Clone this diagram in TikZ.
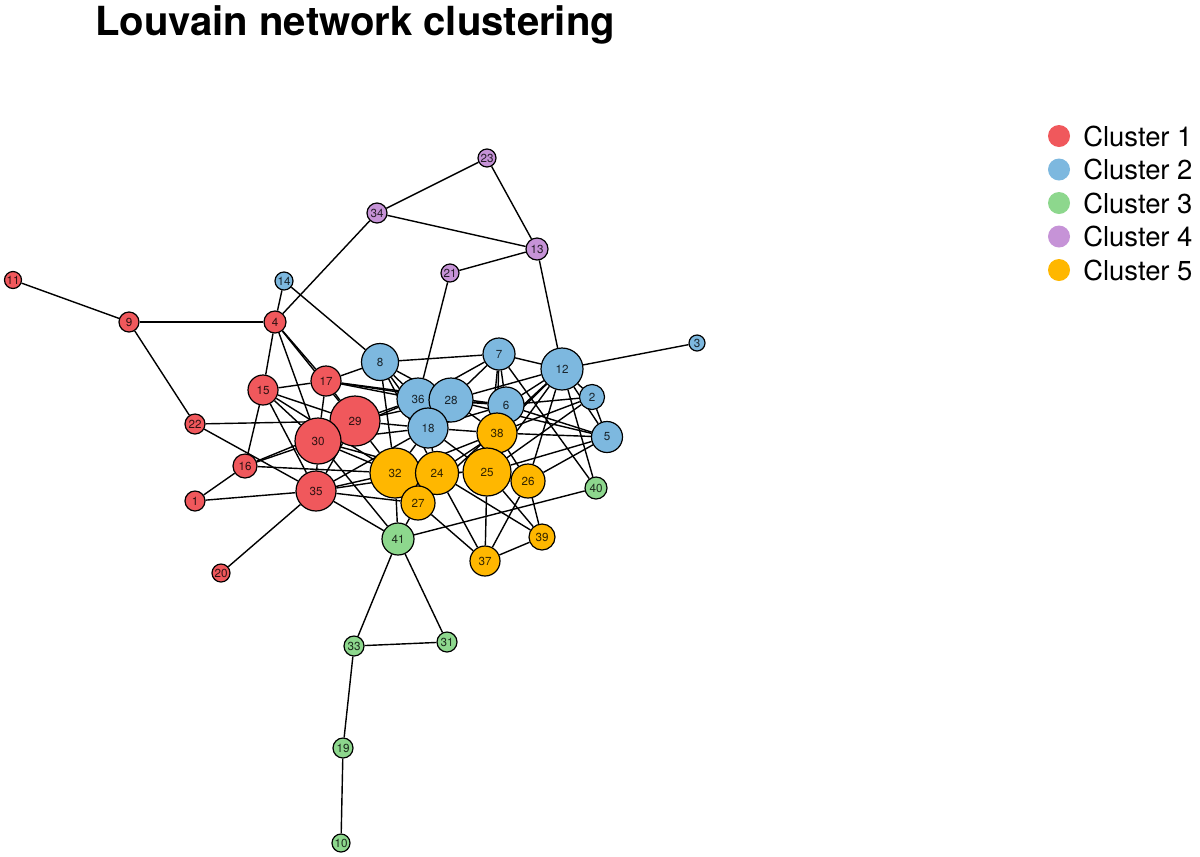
\documentclass[tikz,border=0pt]{standalone}
\usepackage{fontspec}
\setmainfont{TeX Gyre Heros}
\usetikzlibrary{backgrounds}

\definecolor{clred}{HTML}{F0585C}
\definecolor{clblue}{HTML}{7DB8DF}
\definecolor{clgreen}{HTML}{8DD78D}
\definecolor{clpurple}{HTML}{C693D7}
\definecolor{clorange}{HTML}{FFB700}

\begin{document}
\begin{tikzpicture}[x=0.025cm,y=-0.025cm,
vertex/.style={
circle,
draw,
line width=0.85pt,
inner sep=0pt,
text opacity=0.8,
font=\fontsize{8.3}{9}\selectfont
},
sz/.style={minimum size=#1*0.25mm},
c1/.style={vertex,fill=clred},
c2/.style={vertex,fill=clblue},
c3/.style={vertex,fill=clgreen},
c4/.style={vertex,fill=clpurple},
c5/.style={vertex,fill=clorange},
link/.style={line width=1pt},
key/.style={circle,inner sep=0pt,minimum size=22*0.25mm},
keytext/.style={anchor=west,inner sep=0pt,font=\fontsize{19.5}{20}\selectfont}
]
\useasboundingbox (0,0) rectangle (1200,856);
\node (title) [anchor=west,inner sep=0pt,font=\fontsize{28.5}{30}\bfseries] at (95,25) {Louvain network clustering};

% cluster 1
\node (n11) [c1,sz=17] at (13,280) {11};
\node (n9) [c1,sz=20] at (129,322) {9};
\node (n4) [c1,sz=22] at (275,322) {4};
\node (n17) [c1,sz=30] at (326,381) {17};
\node (n15) [c1,sz=30] at (263,390) {15};
\node (n29) [c1,sz=50] at (355,421) {29};
\node (n30) [c1,sz=46] at (318,441) {30};
\node (n22) [c1,sz=20] at (195,424) {22};
\node (n16) [c1,sz=24] at (245,466) {16};
\node (n35) [c1,sz=40] at (316,491) {35};
\node (n1) [c1,sz=20] at (195,501) {1};
\node (n20) [c1,sz=18] at (221,573) {20};
% cluster 2
\node (n14) [c2,sz=18] at (284,281) {14};
\node (n3) [c2,sz=16] at (697,343) {3};
\node (n12) [c2,sz=42] at (562,369) {12};
\node (n7) [c2,sz=32] at (499,354) {7};
\node (n2) [c2,sz=25] at (592,397) {2};
\node (n5) [c2,sz=31] at (607,437) {5};
\node (n8) [c2,sz=37] at (380,362) {8};
\node (n36) [c2,sz=42] at (418,399) {36};
\node (n28) [c2,sz=44] at (451,400) {28};
\node (n6) [c2,sz=36] at (506,405) {6};
\node (n18) [c2,sz=40] at (428,428) {18};
% cluster 3
\node (n40) [c3,sz=22] at (596,488) {40};
\node (n41) [c3,sz=32] at (398,539) {41};
\node (n33) [c3,sz=20] at (354,646) {33};
\node (n31) [c3,sz=20] at (447,642) {31};
\node (n19) [c3,sz=20] at (343,748) {19};
\node (n10) [c3,sz=18] at (341,843) {10};
% cluster 4
\node (n34) [c4,sz=20] at (377,213) {34};
\node (n23) [c4,sz=18] at (487,158) {23};
\node (n13) [c4,sz=22] at (537,249) {13};
\node (n21) [c4,sz=18] at (450,273) {21};
% cluster 5
\node (n38) [c5,sz=40] at (497,433) {38};
\node (n32) [c5,sz=50] at (395,473) {32};
\node (n24) [c5,sz=43] at (437,473) {24};
\node (n25) [c5,sz=48] at (487,472) {25};
\node (n26) [c5,sz=34] at (528,481) {26};
\node (n27) [c5,sz=34] at (418,503) {27};
\node (n39) [c5,sz=26] at (542,537) {39};
\node (n37) [c5,sz=30] at (485,561) {37};

% edges
\begin{pgfonlayer}{background}
\foreach \a/\b in {11/9,9/4,9/22,4/14,4/34,34/23,34/13,23/13,13/21,13/12,21/36,14/8,
4/15,4/17,4/30,4/29,12/3,22/29,22/35,16/15,16/30,16/29,16/32,1/16,1/35,20/35,35/41,
41/33,41/31,33/31,33/19,19/10,41/40,12/40,7/40,5/26,5/25,
15/17,15/30,15/29,15/35,15/32,17/30,17/29,17/8,17/36,17/28,17/6,29/30,30/35,29/35,
30/32,29/32,29/18,29/36,29/28,35/32,35/24,35/18,30/18,30/36,30/24,35/27,30/41,
8/36,8/28,8/18,8/7,8/32,8/24,36/28,36/18,36/7,28/18,28/7,28/6,28/12,7/6,7/12,7/38,
7/25,6/12,6/2,6/5,6/38,6/25,12/2,12/5,12/26,12/25,12/38,2/5,2/25,2/38,18/6,18/38,
18/24,18/32,18/25,36/6,28/38,28/5,32/24,32/27,32/41,32/25,24/27,24/25,24/37,24/39,
25/26,25/38,25/37,25/39,26/39,26/38,27/37,27/41,38/5,37/39,26/37,24/38,32/38,27/12}
\draw [link] (n\a) -- (n\b);
\end{pgfonlayer}

% legend
\node (k1) [key,fill=clred] at (1059,136) {};
\node (k2) [key,fill=clblue] at (1059,169.5) {};
\node (k3) [key,fill=clgreen] at (1059,203) {};
\node (k4) [key,fill=clpurple] at (1059,236.5) {};
\node (k5) [key,fill=clorange] at (1059,270) {};
\foreach \i in {1,...,5}
\node [keytext] at ([xshift=24*0.25mm]k\i.center) {Cluster \i};
\end{tikzpicture}
\end{document}
